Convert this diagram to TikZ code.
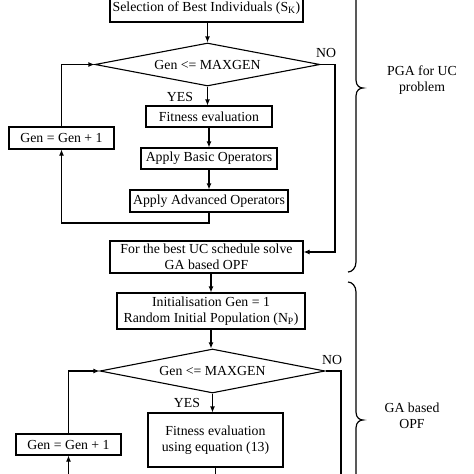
\documentclass[tikz,border=0pt]{standalone}
\usepackage{fontspec}
\setmainfont{Liberation Serif}
\usetikzlibrary{arrows.meta,shapes.geometric,calc}
\begin{document}
\begin{tikzpicture}[x=1pt,y=-1pt,
  font=\fontsize{13.8}{16}\selectfont,
  line width=1.1pt,
  box/.style={draw,rectangle,align=center,inner sep=0pt},
  dec/.style={draw,diamond,aspect=5.2,inner sep=1pt,minimum width=225pt,minimum height=43pt},
  arr/.style={-{Latex[length=6pt,width=5pt]}},
  lbl/.style={inner sep=0pt,align=center}]
\useasboundingbox (0,0) rectangle (474,474);
\fill[white] (0,0) rectangle (474,474);
\clip (0,0) rectangle (474,474);
% upper part
\node[box,minimum width=193pt,minimum height=28pt] (sel) at (206.5,8) {Selection of Best Individuals (S\textsubscript{K})};
\node[dec] (d1) at (207.5,64.5) {Gen <= MAXGEN};
\node[box,minimum width=126pt,minimum height=21pt] (fit1) at (209,116.5) {Fitness evaluation};
\node[box,minimum width=105pt,minimum height=22pt] (gen1) at (61.5,138) {Gen = Gen + 1};
\node[box,minimum width=136pt,minimum height=21pt] (basic) at (209,158.5) {Apply Basic Operators};
\node[box,minimum width=158pt,minimum height=22pt] (adv) at (209,201) {Apply Advanced Operators};
\node[box,minimum width=193pt,minimum height=32pt] (best) at (206.5,257) {For the best UC schedule solve\\GA based OPF};
% lower part
\node[box,minimum width=188pt,minimum height=36pt] (init) at (211,311) {Initialisation Gen = 1\\Random Initial Population (N\textsubscript{P})};
\node[dec,minimum height=44pt] (d2) at (212.5,371) {Gen <= MAXGEN};
\node[box,minimum width=135pt,minimum height=54pt] (fit2) at (215.5,440) {Fitness evaluation\\using equation (13)};
\node[box,minimum width=105pt,minimum height=21pt] (gen2) at (68.5,444.5) {Gen = Gen + 1};
% labels
\node[lbl] (yes1) at (180,97) {YES};
\node[lbl] (no1) at (326,53) {NO};
\node[lbl] (yes2) at (187,403) {YES};
\node[lbl] (no2) at (332,360) {NO};
\node[lbl] (pga) at (422,80) {PGA for UC\\problem};
\node[lbl] (gaopf) at (412,416) {GA based\\OPF};
% coordinates
\coordinate (no1c) at (335,64.5);
\coordinate (loop1) at (209,223);
\coordinate (no2c) at (341,371);
\coordinate (no2e) at (341,490);
\coordinate (fit2e) at (215.5,490);
\coordinate (gen2e) at (68.5,490);
% connectors upper
\draw[arr] (sel.south -| d1.north) -- (d1.north);
\draw[arr] (d1.south) -- (d1.south |- fit1.north);
\draw[arr] (fit1.south) -- (basic.north);
\draw[arr] (basic.south) -- (adv.north);
\draw[arr] (adv.south) -- (loop1) -| (gen1.south);
\draw[arr] (gen1.north) |- (d1.west);
\draw[arr] (d1.east) -- (no1c) |- ($(best.east)+(0,-5)$);
\draw[arr] (init.north |- best.south) -- (init.north);
% connectors lower
\draw[arr] (init.south) -- (init.south |- d2.north);
\draw[arr] (d2.south) -- (d2.south |- fit2.north);
\draw (d2.east) -- (no2c) -- (no2e);
\draw (fit2.south) -- (fit2e);
\draw[arr] (gen2e) -- (gen2.south);
\draw[arr] (gen2.north) |- (d2.west);
% braces
\draw[line width=1.2pt] (356,-20) -- (356,80) .. controls (356,86) and (360,88) .. (363,88)
  .. controls (360,88) and (356,90) .. (356,96) -- (356,262)
  .. controls (356,268) and (352,272) .. (348,272);
\draw[line width=1.2pt] (348,282) .. controls (352,282) and (356,286) .. (356,292) -- (356,412)
  .. controls (356,418) and (360,420) .. (363,420)
  .. controls (360,420) and (356,422) .. (356,428) -- (356,490);
\end{tikzpicture}
\end{document}
